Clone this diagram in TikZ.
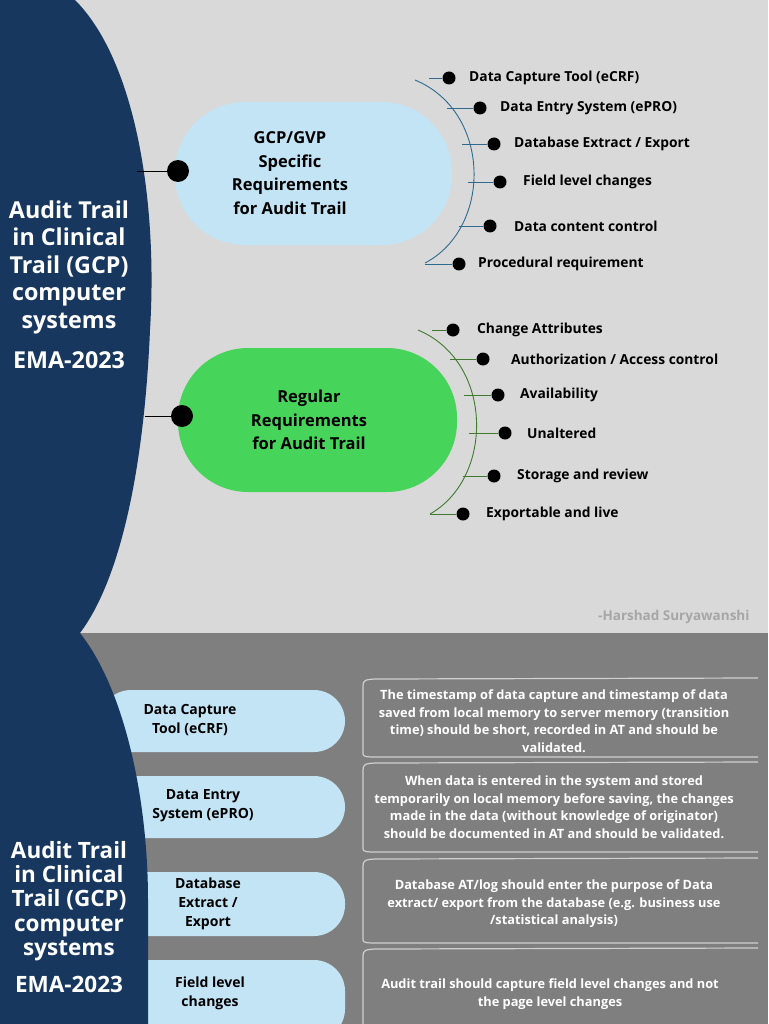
\documentclass[tikz,border=0pt]{standalone}
\usepackage{fontspec}
\setmainfont{Open Sans}
\begin{document}
\begin{tikzpicture}[x=1pt,y=-1pt,
  title/.style={text=white,font=\bfseries\fontsize{23.3}{27.5}\selectfont,align=center},
  titleb/.style={text=white,font=\bfseries\fontsize{22.5}{24.3}\selectfont,align=center},
  item/.style={anchor=west,font=\bfseries\fontsize{13.8}{16}\selectfont,inner sep=0},
  dot/.style={circle,fill=black,inner sep=0,minimum size=13pt},
  bigdot/.style={circle,fill=black,inner sep=0,minimum size=22pt},
  pilltxt/.style={font=\bfseries\fontsize{16.5}{23.5}\selectfont,align=center},
  spill/.style={fill=pblue,rounded corners=31pt},
  stxt/.style={font=\bfseries\fontsize{14}{19}\selectfont,align=center},
  btxt/.style={text=white,font=\bfseries\fontsize{12.8}{17.5}\selectfont,align=center},
  box/.style={draw=boxline,line width=1.2pt}]
\definecolor{navy}{HTML}{17375E}
\definecolor{pblue}{HTML}{C3E4F5}
\definecolor{pgreen}{HTML}{47D45A}
\definecolor{topbg}{HTML}{D9D9D9}
\definecolor{botbg}{HTML}{7F7F7F}
\definecolor{arcblue}{HTML}{2E6A8E}
\definecolor{arcgreen}{HTML}{3F7A2E}
\definecolor{boxline}{HTML}{D0D0D0}
\useasboundingbox (0,0) rectangle (768,1024);
\fill[topbg] (0,0) rectangle (768,633);
\fill[botbg] (0,633) rectangle (768,1024);
% navy shapes
\fill[navy] (0,0) -- (75,0) .. controls (135,60) and (158,200) .. (150,330) .. controls (144,470) and (120,580) .. (80,633) -- (0,633) -- cycle;
% bottom pills (behind navy)
\fill[spill] (100,690) rectangle (345,752);
\fill[spill] (100,776) rectangle (345,838);
\fill[spill] (100,872) rectangle (345,936);
\fill[spill] (100,960) rectangle (345,1040);
\fill[navy] (0,633) -- (80,633) .. controls (125,690) and (148,800) .. (148,900) -- (148,1024) -- (0,1024) -- cycle;
\node[title] (t1) at (69,267) {Audit Trail\\in Clinical\\Trail (GCP)\\computer\\systems};
\node[title] (e1) at (69,360) {EMA-2023};
\node[titleb] (t2) at (69,901) {Audit Trail\\in Clinical\\Trail (GCP)\\computer\\systems};
\node[titleb] (e2) at (69,984) {EMA-2023};
% GCP pill
\node[fill=pblue,rounded corners=70pt,minimum width=277pt,minimum height=143pt,pilltxt] (gcp) at (313.5,173.5) {};
\node[pilltxt] (gcpt) at (290,173) {GCP/GVP\\Specific\\Requirements\\for Audit Trail};
\node[bigdot] (gd) at (178,171) {};
\coordinate (gl) at (137,171);
\draw (gl) -- (gd);
\draw[arcblue,line width=0.9pt] (415,80) .. controls (492,112) and (492,228) .. (425,263);
\foreach \y/\dx/\tx/\t/\ax [count=\i] in {78/449/469/{Data Capture Tool (eCRF)}/429, 108/480/500/{Data Entry System (ePRO)}/447, 144/494/514/{Database Extract / Export}/462, 182/500/523/{Field level changes}/468, 226/490/514/{Data content control}/459, 264/459/478/{Procedural requirement}/425}{
  \node[dot] (a\i) at (\dx,\y) {};
  \node[item] (at\i) at (\tx,\y) {\t};
  \coordinate (ac\i) at (\ax,\y);
  \draw[arcblue,line width=0.9pt] (ac\i) -- (a\i);
}
% Regular pill
\node[fill=pgreen,rounded corners=70pt,minimum width=279pt,minimum height=144pt] (reg) at (317.5,420) {};
\node[pilltxt] (regt) at (309,420) {Regular\\Requirements\\for Audit Trail};
\node[bigdot] (rd) at (182,416) {};
\coordinate (rl) at (145,416);
\draw (rl) -- (rd);
\draw[arcgreen,line width=0.9pt] (418,330) .. controls (494,362) and (494,478) .. (430,514);
\foreach \y/\dx/\tx/\t/\ax [count=\i] in {330/453/477/{Change Attributes}/432, 359/483/511/{Authorization / Access control}/450, 395/498/520/{Availability}/464, 433/505/527/{Unaltered}/469, 476/494/517/{Storage and review}/463, 514/463/486/{Exportable and live}/430}{
  \node[dot] (b\i) at (\dx,\y) {};
  \node[item] (bt\i) at (\tx,\y) {\t};
  \coordinate (bc\i) at (\ax,\y);
  \draw[arcgreen,line width=0.9pt] (bc\i) -- (b\i);
}
\node[anchor=east,text=gray!70!white,font=\bfseries\fontsize{13.5}{16}\selectfont] (auth) at (753,617) {-Harshad Suryawanshi};
% bottom pill texts
\node[stxt] (s1) at (190,720) {Data Capture\\Tool (eCRF)};
\node[stxt] (s2) at (203,806) {Data Entry\\System (ePRO)};
\node[stxt] (s3) at (208,904) {Database\\Extract /\\Export};
\node[stxt] (s4) at (210,993) {Field level\\changes};
% boxes
\foreach \a/\b in {678/757, 762/852, 858/943, 948/1030}{
  \draw[box] (758,\a) -- (378,\a+1) .. controls (364,\a+1) and (363,\a+3) .. (363,\a+8) -- (363,\b-3) .. controls (363,\b) and (368,\b) .. (378,\b) -- (758,\b);
}
\node[btxt] (x1) at (554,721) {The timestamp of data capture and timestamp of data\\saved from local memory to server memory (transition\\time) should be short, recorded in AT and should be\\validated.};
\node[btxt] (x2) at (554,807) {When data is entered in the system and stored\\temporarily on local memory before saving, the changes\\made in the data (without knowledge of originator)\\should be documented in AT and should be validated.};
\node[btxt] (x3) at (554,904) {Database AT/log should enter the purpose of Data\\extract/ export from the database (e.g. business use\\/statistical analysis)};
\node[btxt] (x4) at (550,994) {Audit trail should capture field level changes and not\\the page level changes};
\end{tikzpicture}
\end{document}
